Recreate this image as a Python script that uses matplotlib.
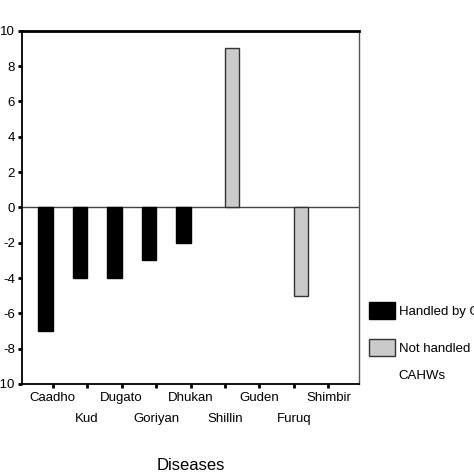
import matplotlib
matplotlib.use("Agg")
import matplotlib.pyplot as plt
import numpy as np

plt.rcParams['font.family'] = ['Liberation Sans', 'DejaVu Sans']

# data (nan = no bar)
diseases = ["Caadho", "Kud", "Dugato", "Goriyan", "Dhukan",
            "Shillin", "Guden", "Furuq", "Shimbir"]
handled = [-7, -4, -4, -3, -2, np.nan, np.nan, np.nan, np.nan]
not_handled = [np.nan, np.nan, np.nan, np.nan, np.nan, 9, np.nan, -5, np.nan]
yticks = [-10, -8, -6, -4, -2, 0, 2, 4, 6, 8, 10]

x = np.arange(len(diseases))
w = 0.42

fig = plt.figure(figsize=(4.74, 4.74), dpi=100)
ax = fig.add_axes([0.0464, 0.19, 0.711, 0.745])

ax.axhline(0, color="#444444", lw=1, zorder=1)
ax.bar(x - w/2, handled, w, color="black", edgecolor="black", lw=1,
       label="Handled by CAHWs", zorder=2)
ax.bar(x + w/2, not_handled, w, color="#cacaca", edgecolor="#333333", lw=1,
       label="Not handled by", zorder=2)

ax.set_xlim(-0.885, len(diseases) - 1 + 0.885)
ax.set_ylim(-10, 10)
ax.set_yticks(yticks)
ax.set_yticklabels([str(v) for v in yticks])

# alternate labels on two rows
ax.set_xticks(x[::2])
ax.set_xticklabels(diseases[::2])
ax.set_xticks(x[1::2], minor=True)
ax.set_xticklabels(diseases[1::2], minor=True)
ax.tick_params(axis="both", which="both", direction="out", length=3,
               width=2, labelsize=9.5, color="black")
ax.tick_params(axis="x", which="major", pad=3)
ax.tick_params(axis="x", which="minor", pad=18)
ax.tick_params(axis="y", pad=2)

ax.spines["top"].set_linewidth(2)
ax.spines["left"].set_linewidth(1.3)
ax.spines["bottom"].set_linewidth(1.3)
ax.spines["right"].set_linewidth(1)
ax.spines["right"].set_color("#555555")

ax.set_xlabel("Diseases", fontsize=12, labelpad=24)

ax.legend(loc="upper left", bbox_to_anchor=(0.7785, 0.362),
          bbox_transform=fig.transFigure, frameon=False, fontsize=9.5,
          handlelength=1.95, handleheight=1.55, handletextpad=0.35,
          labelspacing=1.55, borderpad=0, borderaxespad=0)
fig.text(0.8415, 0.206, "CAHWs", fontsize=9.5, va="center", ha="left")

fig.savefig("out.png", dpi=100)
